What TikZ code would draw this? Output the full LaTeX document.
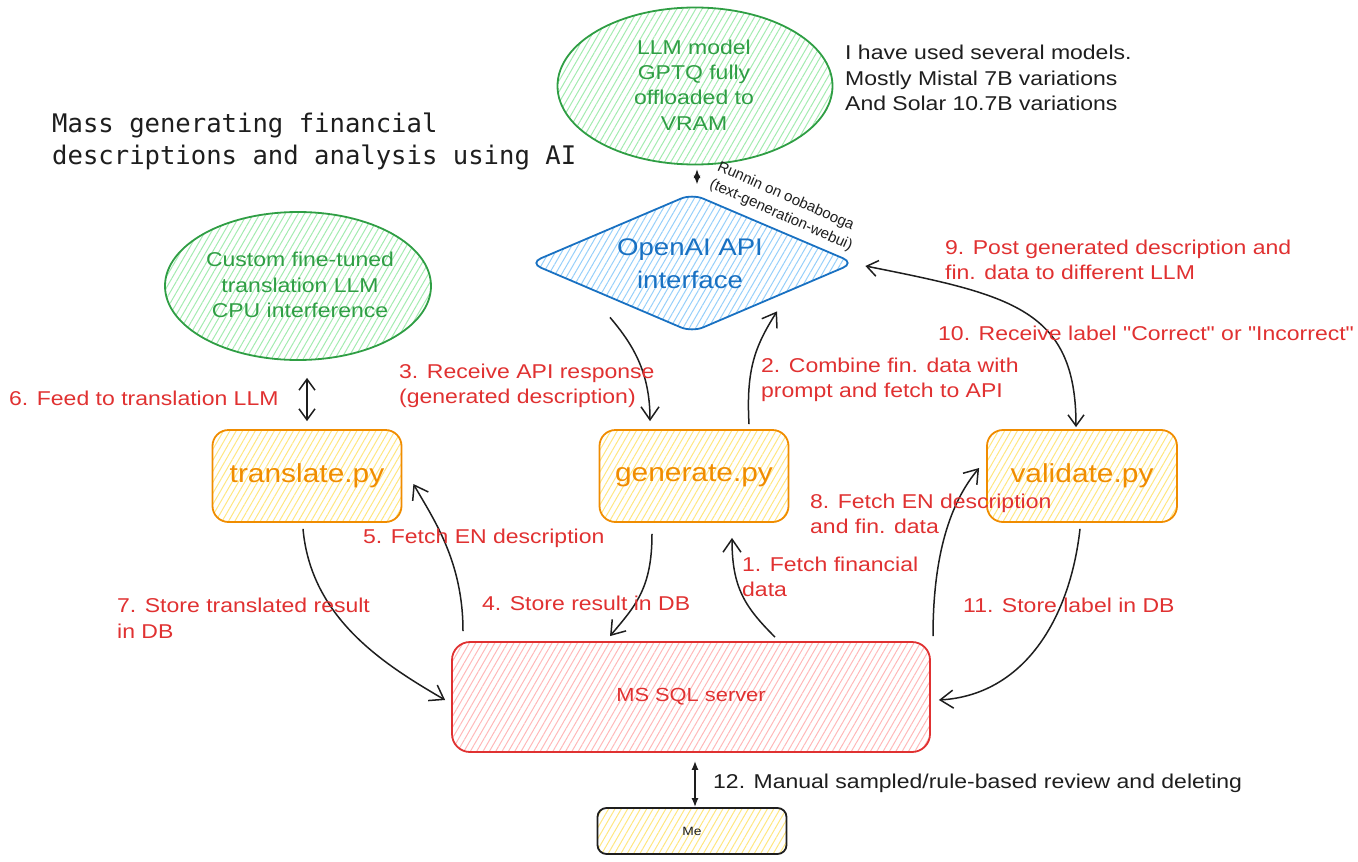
\documentclass[tikz,border=0pt]{standalone}
\usepackage{fontspec}
\setmainfont{Liberation Sans}
\newfontfamily\hw[FakeStretch=1.15]{Liberation Sans}
\newfontfamily\titlefont{DejaVu Sans Mono}
\usetikzlibrary{shapes.geometric,arrows.meta,patterns.meta,calc}
\definecolor{exgreen}{HTML}{2F9E44}
\definecolor{exlgreen}{HTML}{A3EBB0}
\definecolor{exblue}{HTML}{1971C2}
\definecolor{exlblue}{HTML}{96CFFA}
\definecolor{exorange}{HTML}{F08C00}
\definecolor{exyellow}{HTML}{FFE680}
\definecolor{exred}{HTML}{E03131}
\definecolor{exlred}{HTML}{FFB8B8}
\definecolor{exink}{HTML}{1E1E1E}
\tikzset{
  hatch/.style={pattern={Lines[angle=60,distance=5.5pt,line width=1pt]},pattern color=#1},
  pybox/.style={draw=exorange,line width=1.8pt,rounded corners=16pt,hatch=exyellow,
    minimum width=189pt,minimum height=92pt,inner sep=0pt,text=exorange,
    font=\hw\fontsize{26}{30}\selectfont},
  gtext/.style={text=exgreen,align=center,inner sep=0pt,font=\hw\fontsize{20}{25.3}\selectfont},
  redlbl/.style={font=\hw\fontsize{20}{25.5}\selectfont,text=exred,align=left,anchor=west,inner sep=0pt},
  inklbl/.style={font=\hw\fontsize{20}{25.5}\selectfont,text=exink,align=left,anchor=west,inner sep=0pt},
  conn/.style={line width=1.5pt,draw=exink,-{Straight Barb[length=13pt,width=18pt]}},
  dconn/.style={line width=1.5pt,draw=exink,{Straight Barb[length=11pt,width=16pt]}-{Straight Barb[length=11pt,width=16pt]}},
  sconn/.style={line width=1.5pt,draw=exink,{Latex[length=9pt,width=7pt]}-{Latex[length=9pt,width=7pt]}},
}
\begin{document}
\begin{tikzpicture}[x=1pt,y=-1pt]
\useasboundingbox (0,0) rectangle (1358,862);

% title
\node[font=\titlefont\fontsize{25.6}{32}\selectfont,text=exink,align=left,anchor=west,inner sep=0pt]
  (title) at (52,141) {Mass generating financial\\descriptions and analysis using AI};

% LLM ellipse (top)
\node[ellipse,draw=exgreen,line width=1.8pt,hatch=exlgreen,minimum width=275pt,minimum height=157pt,inner sep=0pt]
  (llm) at (695,86) {};
\node[gtext] (llmtext) at (694,85) {LLM model\\GPTQ fully\\offloaded to\\VRAM};
\node[inklbl] (note) at (845,78) {I have used several models.\\Mostly Mistal 7B variations\\And Solar 10.7B variations};

% translation LLM ellipse
\node[ellipse,draw=exgreen,line width=1.8pt,hatch=exlgreen,minimum width=266pt,minimum height=148pt,inner sep=0pt]
  (tllm) at (298,286) {};
\node[gtext] (tllmtext) at (300,285) {Custom fine-tuned\\translation LLM\\CPU interference};

% API diamond
\node[diamond,draw=exblue,line width=1.8pt,hatch=exlblue,minimum width=325pt,minimum height=139pt,inner sep=0pt,rounded corners=12pt]
  (api) at (692,263) {};
\node[text=exblue,align=center,inner sep=0pt,font=\hw\fontsize{24}{33}\selectfont] (apitext) at (690,264) {OpenAI API\\interface};
\node[font=\fontsize{15}{19}\selectfont,text=exink,align=left,anchor=north west,rotate=-24,inner sep=0pt]
  (run) at (721,160) {Runnin on oobabooga\\(text-generation-webui)};

% python boxes
\node[pybox] (tra) at (307,476) {translate.py};
\node[pybox] (gen) at (694,476) {generate.py};
\node[pybox,minimum width=190pt] (val) at (1082,476) {validate.py};

% SQL server
\node[draw=exred,line width=1.8pt,rounded corners=18pt,hatch=exlred,minimum width=478pt,minimum height=110pt,
  inner sep=0pt,text=exred,font=\hw\fontsize{19}{23}\selectfont] (sql) at (691,697) {MS SQL server};

% Me
\node[draw=exink,line width=1.8pt,rounded corners=9pt,hatch=exyellow,minimum width=189pt,minimum height=46pt,
  inner sep=0pt,text=exink,font=\hw\fontsize{12}{14}\selectfont] (me) at (692,831) {Me};

% connectors
\draw[sconn] ($(llm.south)+(2,4)$) -- ($(api.north)+(5,-8)$);
\draw[conn] ($(api.south)+(-82,-16)$) .. controls +(22,26) and +(0,-50) .. ($(gen.north)+(-44,-8)$);
\draw[conn] ($(gen.north)+(55,-5)$) .. controls +(-3,-55) and +(-22,35) .. ($(api.south)+(85,-22)$);
\draw[conn] ($(gen.south)+(-42,11)$) .. controls +(0,55) and +(25,-30) .. ($(sql.north)+(-81,-5)$);
\draw[conn] ($(sql.north)+(84,-4)$) .. controls +(-30,-30) and +(0,50) .. ($(gen.south)+(38,15)$);
\draw[conn] ($(sql.north)+(-228,-10)$) .. controls +(0,-70) and +(20,35) .. ($(tra.east)+(11,8)$);
\draw[conn] ($(tra.south)+(-4,6)$) .. controls +(8,90) and +(-60,-35) .. ($(sql.west)+(-6,3)$);
\draw[conn] ($(sql.north)+(242,-5)$) .. controls +(0,-90) and +(-25,30) .. ($(val.west)+(-7,-8)$);
\draw[conn] ($(val.south)+(-2,6)$) .. controls +(-10,90) and +(85,-5) .. ($(sql.east)+(8,3)$);
\draw[dconn] ($(api.east)+(10,3)$) .. controls +(146,29) and +(0,-118) .. ($(val.north)+(-6,-2)$);
\draw[dconn] ($(tllm.south)+(9,17)$) -- ($(tra.north)+(0,-8)$);
\draw[sconn] ($(sql.south)+(4,8)$) -- ($(me.north)+(3,0)$);

% labels
\node[redlbl] (l1) at (742,577) {1. Fetch financial\\data};
\node[redlbl] (l2) at (761,380) {2. Combine fin. data with\\prompt and fetch to API};
\node[redlbl] (l3) at (399,386) {3. Receive API response\\(generated description)};
\node[redlbl] (l4) at (482,603) {4. Store result in DB};
\node[redlbl] (l5) at (363,538) {5. Fetch EN description};
\node[redlbl] (l6) at (9,398) {6. Feed to translation LLM};
\node[redlbl] (l7) at (117,618) {7. Store translated result\\in DB};
\node[redlbl] (l8) at (810,514) {8. Fetch EN description\\and fin. data};
\node[redlbl] (l9) at (945,260) {9. Post generated description and\\fin. data to different LLM};
\node[redlbl] (l10) at (938,333) {10. Receive label "Correct" or "Incorrect"};
\node[redlbl] (l11) at (963,605) {11. Store label in DB};
\node[inklbl] (l12) at (713,783) {12. Manual sampled/rule-based review and deleting};
\end{tikzpicture}
\end{document}
